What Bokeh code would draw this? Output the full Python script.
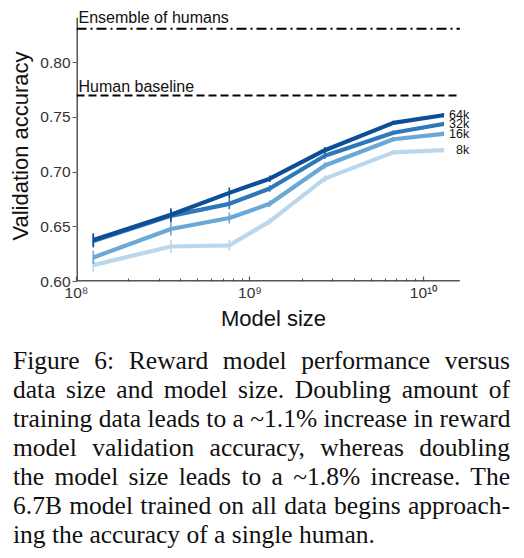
from bokeh.plotting import figure
from bokeh.models import (ColumnDataSource, FixedTicker, NumeralTickFormatter, Label,
                          LabelSet, Div, Range1d, Title)
from bokeh.core.properties import value
from bokeh.layouts import column
from bokeh.embed import file_html
from bokeh.resources import INLINE

# ---- data ----
model_sizes = [1.25e8, 3.5e8, 7.6e8, 1.3e9, 2.7e9, 6.7e9, 1.3e10]
series_names = ["8k", "16k", "32k", "64k"]
acc_8k = [0.615, 0.632, 0.633, 0.655, 0.694, 0.718, 0.720]
acc_16k = [0.622, 0.648, 0.658, 0.671, 0.706, 0.730, 0.735]
acc_32k = [0.637, 0.660, 0.671, 0.685, 0.715, 0.736, 0.744]
acc_64k = [0.638, 0.661, 0.681, 0.694, 0.720, 0.745, 0.752]
err = [0.006, 0.006, 0.005, 0.003, 0.003, 0.002, 0.002]
ensemble_acc = 0.831
human_acc = 0.770
x_lo, x_hi = 1e8, 1.62e10      # extent of the plotted axes
y_lo, y_hi = 0.60, 0.841
y_ticks = [0.60, 0.65, 0.70, 0.75, 0.80]
x_ticks = [1e8, 1e9, 1e10]
x_tick_labels = ["10⁸", "10⁹", "10¹⁰"]
caption_lines = [
    "Figure 6: Reward model performance versus",
    "data size and model size. Doubling amount of",
    "training data leads to a ~1.1% increase in reward",
    "model validation accuracy, whereas doubling",
    "the model size leads to a ~1.8% increase. The",
    "6.7B model trained on all data begins approach-",
    "ing the accuracy of a single human.",
]

colors = {"8k": "#bcd7ec", "16k": "#6aa8d6", "32k": "#2f78b8", "64k": "#0d4f96"}
values = {"8k": acc_8k, "16k": acc_16k, "32k": acc_32k, "64k": acc_64k}

SANS = value("Liberation Sans")
AX = "#555555"

# frame extends a little beyond the axes so that the labels are not clipped
p = figure(width=508, height=331, x_axis_type="log",
           x_range=Range1d(x_lo, 1.866e10), y_range=Range1d(y_lo, 0.8477),
           output_backend="svg", toolbar_location=None,
           min_border_left=76, min_border_right=38, min_border_top=10, min_border_bottom=50)
p.outline_line_color = None
p.grid.grid_line_color = None
p.background_fill_color = "white"

# axis lines (drawn to the axes' extent)
p.segment(x0=[x_lo], y0=[y_lo], x1=[x_hi], y1=[y_lo], line_color=AX, line_width=3)
p.segment(x0=[x_lo], y0=[y_lo], x1=[x_lo], y1=[y_hi], line_color=AX, line_width=3)

# reference lines
p.segment(x0=[x_lo], y0=[ensemble_acc], x1=[x_hi], y1=[ensemble_acc], line_color="black",
          line_width=2, line_dash="10 4 2 4")
p.segment(x0=[x_lo], y0=[human_acc], x1=[x_hi], y1=[human_acc], line_color="black",
          line_width=2, line_dash="8 4")

for name in series_names:
    ys = values[name]
    src = ColumnDataSource(dict(x=model_sizes, y=ys,
                                lo=[v - e for v, e in zip(ys, err)],
                                hi=[v + e for v, e in zip(ys, err)]))
    p.segment(x0="x", y0="lo", x1="x", y1="hi", source=src, line_color=colors[name],
              line_width=1.6)
    p.line("x", "y", source=src, line_color=colors[name], line_width=4.2, line_join="round")

# end labels
lab_src = ColumnDataSource(dict(x=[model_sizes[-1]] * 4,
                                y=[values[n][-1] for n in series_names],
                                t=series_names))
p.add_layout(LabelSet(x="x", y="y", text="t", source=lab_src, x_offset=26,
                      text_align="right", text_baseline="middle",
                      text_font=SANS, text_font_size="12.5px", text_color="#111111"))

p.add_layout(Label(x=x_lo, y=ensemble_acc, text="Ensemble of humans", x_offset=2, y_offset=3,
                   text_baseline="bottom", text_font="Liberation Sans",
                   text_font_size="16px", text_color="#111111"))
p.add_layout(Label(x=x_lo, y=human_acc, text="Human baseline", x_offset=2, y_offset=1,
                   text_baseline="bottom", text_font="Liberation Sans",
                   text_font_size="16px", text_color="#111111"))

# axes
xa = p.xaxis[0]
xa.ticker = FixedTicker(ticks=x_ticks,
                        minor_ticks=[m * 10 ** e for e in (8, 9, 10) for m in range(2, 10)])
xa.major_label_overrides = {t: l for t, l in zip(x_ticks, x_tick_labels)}
ya = p.yaxis[0]
ya.ticker = FixedTicker(ticks=y_ticks)
ya.formatter = NumeralTickFormatter(format="0.00")
ya.axis_label = "Validation accuracy"

for ax in (xa, ya):
    ax.axis_line_color = None
    ax.major_tick_line_color = AX
    ax.major_tick_line_width = 1.2
    ax.minor_tick_line_color = AX
    ax.major_label_text_font = "Liberation Sans"
    ax.major_label_text_font_size = "15.5px"
    ax.major_label_text_color = "#333333"
    ax.axis_label_text_font = "Liberation Sans"
    ax.axis_label_text_font_size = "22px"
    ax.axis_label_text_font_style = "normal"
    ax.axis_label_text_color = "#111111"

ya.minor_tick_line_color = None
xa.major_tick_in = 5
xa.major_tick_out = 0
xa.minor_tick_in = 3
xa.minor_tick_out = 0
xa.major_label_standoff = 2
ya.major_tick_in = 0
ya.major_tick_out = 4
ya.major_label_standoff = 2
ya.axis_label_standoff = 4

# x-axis title, centred under the drawn axis rather than the (wider) frame
p.add_layout(Title(text="Model size", align="center", offset=-6, standoff=0,
                   text_font="Liberation Sans", text_font_size="22px",
                   text_font_style="normal", text_color="#111111"), "below")

html_lines = []
for i, line in enumerate(caption_lines):
    last = i == len(caption_lines) - 1
    align = "left" if last else "justify"
    html_lines.append(
        f'<div style="text-align:{align};text-align-last:{align};white-space:nowrap;'
        f'width:497px;">{line}</div>')
inner = ('<div style="margin:15px 0 0 13px;width:497px;font-family:\'Liberation Serif\';'
         'font-size:25.5px;line-height:29px;color:#111111;">' + "".join(html_lines) + '</div>')
caption = Div(text=inner, width=512, height=222, margin=(0, 0, 0, 0))

layout = column(p, caption, spacing=0)
open("out.html", "w").write(file_html(layout, INLINE))
